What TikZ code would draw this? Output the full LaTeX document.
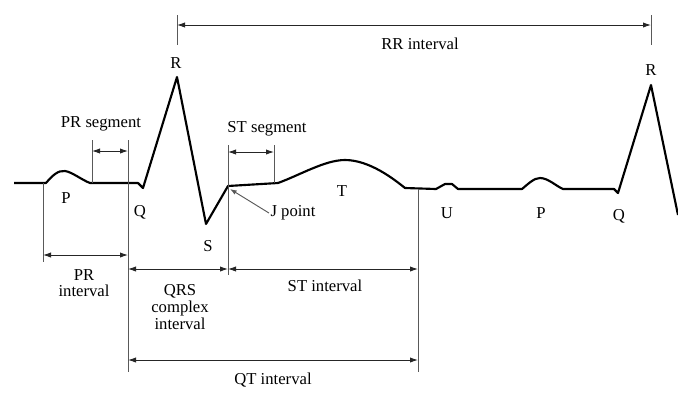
\documentclass[tikz,border=0pt]{standalone}
\usepackage{fontspec}
\setmainfont{Liberation Serif}
\usetikzlibrary{arrows.meta}
\begin{document}
\begin{tikzpicture}[x=0.75pt,y=-0.75pt,
  wave/.style={line width=1.6pt,line join=round},
  guide/.style={gray!70!black,line width=0.7pt},
  dim/.style={gray!30!black,line width=0.7pt,{Latex[length=6pt,width=4pt]}-{Latex[length=6pt,width=4pt]}},
  lbl/.style={font=\fontsize{12.5}{12.5}\selectfont,inner sep=1pt}]
\useasboundingbox (0,0) rectangle (678,401);
\draw[wave] (14,183) -- (46,183) .. controls (52,176) and (58,170) .. (65,171) .. controls (72,172) and (82,180) .. (90,183) -- (138,183) -- (143,188) -- (177,77) -- (206,224) -- (228,186) -- (278,183) .. controls (300,175) and (325,160) .. (345,160) .. controls (370,160) and (395,180) .. (405,188) -- (436,189) -- (445,184) -- (452,184) -- (458,189) -- (522,189) .. controls (528,184) and (534,178) .. (540,178) .. controls (548,178) and (556,186) .. (563,189) -- (614,189) -- (618,193) -- (651,85) -- (678,215);
% guides
\coordinate (a1) at (43,183); \coordinate (a2) at (43,262);
\coordinate (b1) at (128,140); \coordinate (b2) at (128,372);
\coordinate (c1) at (92,140); \coordinate (c2) at (92,183);
\coordinate (d1) at (228,145); \coordinate (d2) at (228,275);
\coordinate (e1) at (274,145); \coordinate (e2) at (274,183);
\coordinate (f1) at (418,189); \coordinate (f2) at (418,372);
\coordinate (g1) at (177,15); \coordinate (g2) at (177,45);
\coordinate (h1) at (651,15); \coordinate (h2) at (651,45);
\foreach \p in {a,b,c,d,e,f,g,h} \draw[guide] (\p1) -- (\p2);
% dimension arrows
\coordinate (ps1) at (92,151); \coordinate (ps2) at (128,151);
\coordinate (ss1) at (228,152); \coordinate (ss2) at (274,152);
\coordinate (pr1) at (43,255); \coordinate (pr2) at (128,255);
\coordinate (q1) at (128,269); \coordinate (q2) at (228,269);
\coordinate (st1) at (228,269); \coordinate (st2) at (418,269);
\coordinate (qt1) at (128,360); \coordinate (qt2) at (418,360);
\coordinate (rr1) at (177,25); \coordinate (rr2) at (651,25);
\draw[dim] (ps1) -- (ps2);
\draw[dim] (ss1) -- (ss2);
\draw[dim] (pr1) -- (pr2);
\draw[dim] (q1) -- (q2);
\draw[dim] (st1) -- (st2);
\draw[dim] (qt1) -- (qt2);
\draw[dim] (rr1) -- (rr2);
% labels
\node[lbl] (R1) at (176,63) {R};
\node[lbl] (P1) at (66,198) {P};
\node[lbl] (Q1) at (140,212) {Q};
\node[lbl] (S1) at (208,246) {S};
\node[lbl] (T1) at (342,191) {T};
\node[lbl] (U1) at (447,213) {U};
\node[lbl] (P2) at (541,213) {P};
\node[lbl] (Q2) at (619,216) {Q};
\node[lbl] (R2) at (651,70) {R};
\node[lbl] (J) at (293,213) {J point};
\coordinate (Jp) at (230,189);
\draw[guide,-{Latex[length=5pt,width=3.5pt]}] (J.west) -- (Jp);
\node[lbl] (prs) at (101,124) {PR segment};
\node[lbl] (sts) at (267,129) {ST segment};
\node[lbl] (rri) at (420,44) {RR interval};
\node[lbl,align=center] (pri) at (84,283) {PR\\interval};
\node[lbl,align=center] (qrs) at (180,307) {QRS\\complex\\interval};
\node[lbl] (sti) at (325,286) {ST interval};
\node[lbl] (qti) at (273,380) {QT interval};
\end{tikzpicture}
\end{document}
